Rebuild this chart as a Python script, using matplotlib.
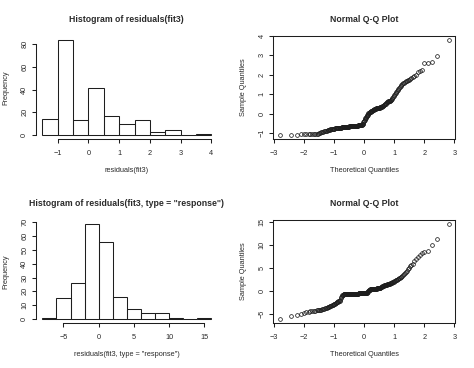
import numpy as np
import matplotlib
matplotlib.use("Agg")
import matplotlib.pyplot as plt
from statistics import NormalDist

plt.rcParams['font.family'] = ['Liberation Sans', 'DejaVu Sans']
plt.rcParams['font.size'] = 5.3

# hist(residuals(fit3))
dev_edges = [-1.5, -1.0, -0.5, 0.0, 0.5, 1.0, 1.5, 2.0, 2.5, 3.0, 3.5, 4.0]
dev_counts = [14, 84, 13, 41, 17, 10, 13, 3, 4, 0, 1]
dev_xticks = [-1, 0, 1, 2, 3, 4]
dev_yticks = [0, 20, 40, 60, 80]

# hist(residuals(fit3, type = "response"))
resp_edges = [-8, -6, -4, -2, 0, 2, 4, 6, 8, 10, 12, 14, 16]
resp_counts = [1, 15, 26, 69, 56, 16, 7, 4, 4, 1, 0, 1]
resp_xticks = [-5, 0, 5, 10, 15]
resp_yticks = [0, 10, 20, 30, 40, 50, 60, 70]

# sorted residuals (200 each)
dev_sorted = [
    -1.10, -1.08, -1.08, -1.07, -1.07, -1.06, -1.06, -1.05, -1.05, -1.05, -1.04, -1.04, -1.03, -1.02,
    -0.99, -0.97, -0.95, -0.93, -0.91, -0.90, -0.88, -0.87, -0.85, -0.84,
    -0.83, -0.82, -0.81, -0.80, -0.79,
    -0.78, -0.78, -0.77, -0.77, -0.76, -0.76, -0.75, -0.75, -0.74, -0.74,
    -0.73, -0.73, -0.73, -0.72, -0.72, -0.72, -0.71, -0.71, -0.71, -0.70,
    -0.70, -0.70, -0.69, -0.69, -0.69, -0.68, -0.68, -0.68, -0.68, -0.67,
    -0.67, -0.67, -0.67, -0.66, -0.66, -0.66, -0.66, -0.65, -0.65, -0.65,
    -0.65, -0.65, -0.64, -0.64, -0.64, -0.64, -0.63, -0.63, -0.63, -0.63,
    -0.63, -0.62, -0.62, -0.62, -0.62, -0.61, -0.61, -0.61, -0.60, -0.60,
    -0.60, -0.59, -0.59, -0.58, -0.58, -0.57, -0.56, -0.54, -0.52,
    -0.45, -0.40, -0.36, -0.32, -0.28, -0.24, -0.20, -0.17, -0.14, -0.11, -0.08, -0.05, -0.02,
    0.02, 0.04, 0.05, 0.07, 0.08, 0.09, 0.10, 0.12,
    0.13, 0.14, 0.15, 0.17, 0.18, 0.19, 0.20, 0.22, 0.23, 0.24,
    0.25, 0.26, 0.27, 0.28, 0.28, 0.29, 0.29, 0.30, 0.30, 0.31,
    0.31, 0.32, 0.32, 0.33, 0.34, 0.35, 0.37, 0.39, 0.41, 0.43,
    0.45, 0.47, 0.49,
    0.52, 0.55, 0.58, 0.60, 0.62, 0.63, 0.64, 0.65, 0.66, 0.67, 0.69, 0.72, 0.76, 0.80, 0.85, 0.90, 0.95,
    1.02, 1.08, 1.13, 1.18, 1.23, 1.28, 1.33, 1.38, 1.43, 1.48,
    1.52, 1.56, 1.60, 1.63, 1.66, 1.69, 1.72, 1.75, 1.79, 1.83, 1.88, 1.93, 1.97,
    2.12, 2.20, 2.25,
    2.62, 2.63, 2.66, 2.97,
    3.81,
]

resp_sorted = [
    -6.10,
    -5.40, -5.30, -4.95, -4.80, -4.65, -4.55, -4.45, -4.40, -4.35, -4.30, -4.25, -4.20, -4.15, -4.10, -4.05,
    -3.98, -3.92, -3.85, -3.78, -3.72, -3.65, -3.58, -3.52, -3.45, -3.38,
    -3.30, -3.22, -3.14, -3.06, -2.98, -2.90, -2.82, -2.74, -2.66, -2.58,
    -2.50, -2.42, -2.34, -2.26, -2.18, -2.10,
    -1.90, -1.65, -1.35, -1.05, -0.88,
    -0.80, -0.79, -0.78, -0.77, -0.76, -0.76, -0.75, -0.75, -0.74, -0.74,
    -0.73, -0.72, -0.72, -0.71, -0.71, -0.70, -0.70, -0.69, -0.68, -0.68,
    -0.67, -0.67, -0.66, -0.65, -0.65, -0.64, -0.64, -0.63, -0.62, -0.62,
    -0.61, -0.61, -0.60, -0.59, -0.59, -0.58, -0.58, -0.57, -0.56, -0.56,
    -0.55, -0.54, -0.54, -0.53, -0.52, -0.52, -0.51, -0.50, -0.50, -0.49,
    -0.48, -0.48, -0.47, -0.46, -0.45, -0.45, -0.44, -0.43, -0.42, -0.41, -0.40,
    -0.32, -0.20, -0.08,
    0.08, 0.15, 0.20, 0.24, 0.27, 0.30, 0.32, 0.34,
    0.35, 0.37, 0.38, 0.40, 0.41, 0.42, 0.44, 0.45, 0.46, 0.47,
    0.48, 0.49, 0.50, 0.51, 0.52, 0.53, 0.54, 0.55, 0.56, 0.58,
    0.60, 0.63, 0.68, 0.75, 0.85, 0.95, 1.02, 1.08, 1.12, 1.16,
    1.20, 1.24, 1.28, 1.31, 1.34, 1.37, 1.40, 1.43, 1.46, 1.50,
    1.54, 1.58, 1.63, 1.68, 1.74, 1.80, 1.87, 1.94,
    2.02, 2.10, 2.18, 2.26, 2.34, 2.42, 2.50, 2.60, 2.70, 2.82, 2.95, 3.10, 3.30, 3.50, 3.70, 3.90,
    4.15, 4.40, 4.70, 5.00, 5.30, 5.60, 5.90,
    6.40, 6.85, 7.30, 7.70,
    8.20, 8.45, 8.75, 9.85,
    11.30,
    14.60,
]
qq_xticks = [-3, -2, -1, 0, 1, 2, 3]
dev_qq_yticks = [-1, 0, 1, 2, 3, 4]
resp_qq_yticks = [-5, 0, 5, 10, 15]

INK = '#1e1e1e'
TXT = '#2a2a2a'
W, H = 474, 368


def r_range(lo, hi):
    # R pads the data range by 4% on both sides
    d = (hi - lo) * 0.04
    return lo - d, hi + d


def ppoints(n):
    return [(i - 0.5) / n for i in range(1, n + 1)]


def place(left, top):
    # plot regions measured in pixels of the 474x368 picture
    return fig.add_axes([left / W, 1 - (top + 103) / H, 182.5 / W, 103 / H])


def style(ax, xticks, yticks, title, xlabel, ylabel):
    ax.set_xticks(xticks)
    ax.set_yticks(yticks)
    ax.tick_params(length=3, width=0.75, color=INK, labelcolor=TXT)
    ax.tick_params(axis='x', pad=5)
    ax.tick_params(axis='y', pad=2.3, labelrotation=90)
    for lab in ax.get_yticklabels():
        lab.set_va('center')
    ax.set_title(title, fontsize=6.3, fontweight='bold', color=TXT, pad=9.6)
    ax.set_xlabel(xlabel, color=TXT, va='center')
    ax.xaxis.set_label_coords(0.5, -31.5 / 103)
    ax.set_ylabel(ylabel, color=TXT, va='center', rotation_mode='default')
    ax.yaxis.set_label_coords(-29.7 / 182.5, 0.5)
    for sp in ax.spines.values():
        sp.set_linewidth(0.75)
        sp.set_color(INK)


def r_hist(ax, edges, counts, xticks, yticks, title, xlabel):
    ax.bar(edges[:-1], counts, width=np.diff(edges), align='edge',
           fill=False, edgecolor=INK, linewidth=0.75)
    ax.set_xlim(*r_range(edges[0], edges[-1]))
    ax.set_ylim(*r_range(0, max(counts)))
    style(ax, xticks, yticks, title, xlabel, 'Frequency')
    ax.spines['top'].set_visible(False)
    ax.spines['right'].set_visible(False)
    ax.spines['left'].set_bounds(yticks[0], yticks[-1])
    ax.spines['bottom'].set_bounds(xticks[0], xticks[-1])


def r_qqnorm(ax, sample, yticks):
    sample = np.sort(sample)
    theo = np.array([NormalDist().inv_cdf(p) for p in ppoints(len(sample))])
    ax.plot(theo, sample, linestyle='none', marker='o', markersize=2.7,
            markerfacecolor='none', markeredgecolor=INK, markeredgewidth=0.55)
    ax.set_xlim(*r_range(theo.min(), theo.max()))
    ax.set_ylim(*r_range(sample.min(), sample.max()))
    style(ax, qq_xticks, yticks, 'Normal Q-Q Plot',
          'Theoretical Quantiles', 'Sample Quantiles')


fig = plt.figure(figsize=(W / 100, H / 100), dpi=100)

ax1 = place(35.6, 35.8)
r_hist(ax1, dev_edges, dev_counts, dev_xticks, dev_yticks,
       'Histogram of residuals(fit3)', 'residuals(fit3)')

ax2 = place(272.8, 35.8)
r_qqnorm(ax2, dev_sorted, dev_qq_yticks)

ax3 = place(35.6, 219.8)
r_hist(ax3, resp_edges, resp_counts, resp_xticks, resp_yticks,
       'Histogram of residuals(fit3, type = "response")',
       'residuals(fit3, type = "response")')

ax4 = place(272.8, 219.8)
r_qqnorm(ax4, resp_sorted, resp_qq_yticks)

fig.savefig('out.png', dpi=100)
